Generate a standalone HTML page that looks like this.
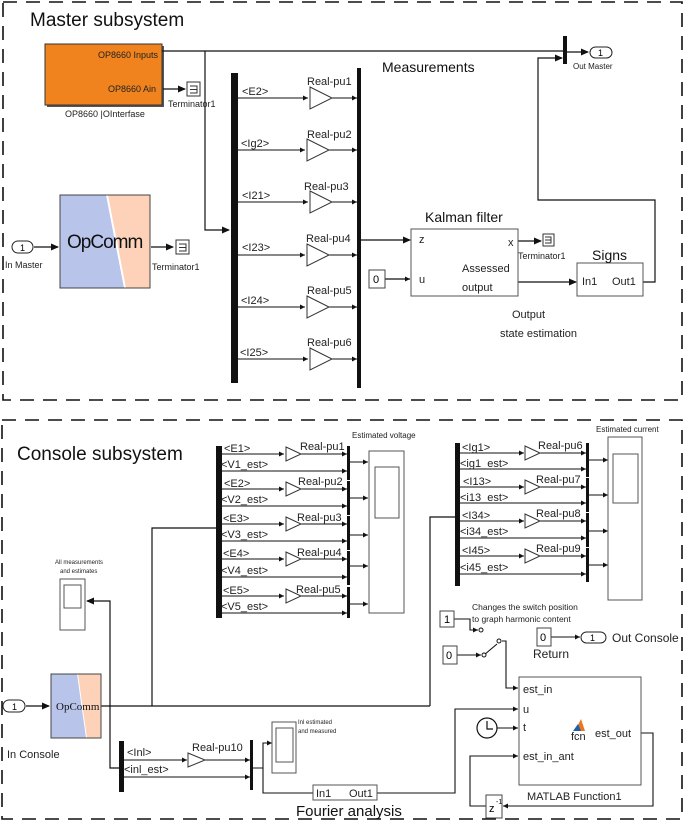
<!DOCTYPE html>
<html><head><meta charset="utf-8"><style>
html,body{margin:0;padding:0;background:#fff;}
svg{display:block;font-family:"Liberation Sans",sans-serif;}
</style></head><body>
<svg width="685" height="822" viewBox="0 0 685 822" xmlns="http://www.w3.org/2000/svg">
<defs>
<marker id="a" markerWidth="8" markerHeight="8" refX="7" refY="4" orient="auto" markerUnits="userSpaceOnUse"><path d="M0,0.5 L8,4 L0,7.5z" fill="#111"/></marker>
<marker id="s" markerWidth="5" markerHeight="5" refX="5" refY="2.5" orient="auto" markerUnits="userSpaceOnUse"><path d="M0,0 L5,2.5 L0,5z" fill="#111"/></marker>
</defs>
<g fill="none" stroke="#111" stroke-width="1.6" stroke-dasharray="14,9">
<rect x="3" y="2" width="679" height="398"/>
<rect x="2" y="420" width="680" height="399"/>
</g>
<g font-size="19" fill="#111"><text x="30" y="26">Master subsystem</text><text x="17" y="460">Console subsystem</text></g>

<!-- Master section -->
<rect x="47" y="46" width="117" height="61" fill="#555"/>
<rect x="45" y="44" width="117" height="61" fill="#f0831e" stroke="#333"/>
<g font-size="9" fill="#222" text-anchor="end"><text x="158" y="58">OP8660 Inputs</text><text x="156" y="92">OP8660 Ain</text></g>
<text x="65" y="117" font-size="9" fill="#222">OP8660 |OInterfase</text>
<g stroke="#111" stroke-width="1.2" fill="none">
<line x1="162" y1="51" x2="563" y2="51"/>
<polyline points="205,51 205,230 229,230" marker-end="url(#a)"/>
<line x1="163" y1="89" x2="185" y2="89" marker-end="url(#a)"/>
<polyline points="643,282 655,282 655,200 538,200 538,58 562,58" marker-end="url(#a)"/>
<line x1="566" y1="52" x2="588" y2="52" marker-end="url(#a)"/>
<line x1="361" y1="240" x2="410" y2="240" marker-end="url(#a)"/>
<line x1="385" y1="279" x2="410" y2="279" marker-end="url(#s)"/>
<line x1="518" y1="241" x2="541" y2="241" marker-end="url(#a)"/>
<line x1="518" y1="282" x2="576" y2="282" marker-end="url(#a)"/>
<line x1="34" y1="247" x2="58" y2="247" marker-end="url(#a)"/>
<line x1="151" y1="247" x2="173" y2="247" marker-end="url(#a)"/>
</g>
<g fill="#fff" stroke="#333" stroke-width="1">
<rect x="187" y="82" width="13" height="14"/><rect x="176" y="240" width="13" height="14"/><rect x="543" y="234" width="11" height="12"/>
</g>
<g stroke="#333" fill="none" stroke-width="1"><path d="M190,86h7v7h-7M190,89.5h7"/><path d="M179,244h7v7h-7M179,247.5h7"/><path d="M545,237h6v6h-6M545,240h6"/></g>
<g font-size="9" fill="#222"><text x="168" y="107">Terminator1</text><text x="152" y="270">Terminator1</text><text x="518" y="259">Terminator1</text><text x="5" y="268">In Master</text><text x="573" y="69" font-size="8">Out Master</text></g>
<rect x="12" y="241" width="21" height="12" rx="6" fill="#fff" stroke="#222"/><text x="20" y="251" font-size="9">1</text>
<rect x="590" y="47" width="22" height="11" rx="5.5" fill="#fff" stroke="#222"/><text x="598" y="56" font-size="9">1</text>
<rect x="563" y="36" width="4" height="28" fill="#111"/>
<!-- OpComm master -->
<polygon points="60,195 106,195 124,288 60,288" fill="#b8c4ea"/>
<polygon points="108,195 150,195 150,288 126,288" fill="#fdd2b8"/>
<rect x="60" y="195" width="90" height="93" fill="none" stroke="#444"/>
<text x="67" y="248" font-size="19" fill="#111" letter-spacing="-1">OpComm</text>
<!-- buses -->
<rect x="231" y="73" width="7" height="310" fill="#111"/>
<rect x="357" y="68" width="4" height="320" fill="#111"/>
<g stroke="#111" stroke-width="1.1">
<line x1="238" y1="98" x2="308" y2="98" marker-end="url(#s)"/><line x1="332" y1="98" x2="357" y2="98" marker-end="url(#s)"/>
<line x1="238" y1="150" x2="305" y2="150" marker-end="url(#s)"/><line x1="329" y1="150" x2="357" y2="150" marker-end="url(#s)"/>
<line x1="238" y1="202" x2="308" y2="202" marker-end="url(#s)"/><line x1="332" y1="202" x2="357" y2="202" marker-end="url(#s)"/>
<line x1="238" y1="255" x2="305" y2="255" marker-end="url(#s)"/><line x1="329" y1="255" x2="357" y2="255" marker-end="url(#s)"/>
<line x1="238" y1="307" x2="305" y2="307" marker-end="url(#s)"/><line x1="329" y1="307" x2="357" y2="307" marker-end="url(#s)"/>
<line x1="238" y1="359" x2="308" y2="359" marker-end="url(#s)"/><line x1="332" y1="359" x2="357" y2="359" marker-end="url(#s)"/>
</g>
<g fill="#fff" stroke="#333" stroke-width="1">
<polygon points="310,87 332,98 310,109"/><polygon points="307,139 329,150 307,161"/><polygon points="310,191 332,202 310,213"/>
<polygon points="307,244 329,255 307,266"/><polygon points="307,296 329,307 307,318"/><polygon points="310,348 332,359 310,370"/>
</g>
<g font-size="11" fill="#222">
<text x="242" y="95">&lt;E2&gt;</text><text x="241" y="147">&lt;Ig2&gt;</text><text x="242" y="199">&lt;I21&gt;</text><text x="242" y="251">&lt;I23&gt;</text><text x="241" y="304">&lt;I24&gt;</text><text x="240" y="356">&lt;I25&gt;</text>
<text x="307" y="85">Real-pu1</text><text x="307" y="138">Real-pu2</text><text x="304" y="190">Real-pu3</text><text x="306" y="242">Real-pu4</text><text x="307" y="294">Real-pu5</text><text x="307" y="346">Real-pu6</text>
</g>
<text x="382" y="72" font-size="14" fill="#111">Measurements</text>
<!-- Kalman -->
<rect x="411" y="229" width="107" height="67" fill="#fff" stroke="#555"/>
<rect x="577" y="263" width="66" height="33" fill="#fff" stroke="#555"/>
<text x="425" y="222" font-size="14" fill="#111">Kalman filter</text>
<g font-size="11" fill="#222"><text x="419" y="243">z</text><text x="508" y="246">x</text><text x="419" y="283">u</text><text x="462" y="272">Assessed</text><text x="462" y="291">output</text>
<text x="582" y="285">In1</text><text x="612" y="285">Out1</text><text x="512" y="318">Output</text><text x="500" y="337">state estimation</text></g>
<rect x="369" y="270" width="16" height="18" fill="#fff" stroke="#444"/><text x="373" y="283" font-size="11">0</text>
<text x="592" y="260" font-size="14" fill="#111">Signs</text>

<!-- Console section -->
<g stroke="#111" stroke-width="1.2" fill="none">
<line x1="101" y1="706" x2="430" y2="706"/>
<polyline points="152,706 152,528 217,528"/>
<polyline points="430,706 430,517 455,517"/>
<polyline points="110,706 110,601 87,601" marker-end="url(#a)"/>
<polyline points="110,706 110,768 119,768"/>
<line x1="26" y1="706" x2="49" y2="706" marker-end="url(#a)"/>
</g>
<rect x="3" y="700" width="22" height="12" rx="6" fill="#fff" stroke="#222"/><text x="12" y="710" font-size="9">1</text>
<polygon points="51,674 77,674 86,738 51,738" fill="#b8c4ea"/>
<polygon points="78,674 101,674 101,738 87,738" fill="#fdd2b8"/>
<rect x="51" y="674" width="50" height="64" fill="none" stroke="#444"/>
<text x="56" y="710" font-size="11" font-family="Liberation Serif,serif" fill="#111">OpComm</text>
<text x="7" y="758" font-size="11" fill="#222">In Console</text>
<rect x="60" y="579" width="25" height="51" fill="#fff" stroke="#555"/><rect x="64" y="585" width="17" height="23" fill="#fff" stroke="#555"/>
<g font-size="6" fill="#222"><text x="55" y="564">All measurements</text><text x="60" y="573">and estimates</text></g>

<!-- voltage bus -->
<rect x="216" y="446" width="6" height="172" fill="#111"/>
<g fill="#111"><rect x="347" y="446" width="3" height="34"/><rect x="347" y="481" width="3" height="34"/><rect x="347" y="516" width="3" height="34"/><rect x="347" y="551" width="3" height="34"/><rect x="347" y="587" width="3" height="31"/></g>
<g stroke="#111" stroke-width="1.1">
<line x1="222" y1="454" x2="284" y2="454" marker-end="url(#s)"/><line x1="301" y1="454" x2="347" y2="454" marker-end="url(#s)"/><line x1="222" y1="471" x2="347" y2="471" marker-end="url(#s)"/>
<line x1="222" y1="489" x2="284" y2="489" marker-end="url(#s)"/><line x1="301" y1="489" x2="347" y2="489" marker-end="url(#s)"/><line x1="222" y1="506" x2="347" y2="506" marker-end="url(#s)"/>
<line x1="222" y1="524" x2="284" y2="524" marker-end="url(#s)"/><line x1="301" y1="524" x2="347" y2="524" marker-end="url(#s)"/><line x1="222" y1="541" x2="347" y2="541" marker-end="url(#s)"/>
<line x1="222" y1="559" x2="284" y2="559" marker-end="url(#s)"/><line x1="301" y1="559" x2="347" y2="559" marker-end="url(#s)"/><line x1="222" y1="577" x2="347" y2="577" marker-end="url(#s)"/>
<line x1="222" y1="596" x2="284" y2="596" marker-end="url(#s)"/><line x1="301" y1="596" x2="347" y2="596" marker-end="url(#s)"/><line x1="222" y1="613" x2="347" y2="613" marker-end="url(#s)"/>
<line x1="350" y1="462" x2="368" y2="462" marker-end="url(#s)"/><line x1="350" y1="498" x2="368" y2="498" marker-end="url(#s)"/><line x1="350" y1="535" x2="368" y2="535" marker-end="url(#s)"/><line x1="350" y1="566" x2="368" y2="566" marker-end="url(#s)"/><line x1="350" y1="604" x2="368" y2="604" marker-end="url(#s)"/>
</g>
<g fill="#fff" stroke="#333" stroke-width="1">
<polygon points="286,447 301,454 286,461"/><polygon points="286,482 301,489 286,496"/><polygon points="286,517 301,524 286,531"/><polygon points="286,552 301,559 286,566"/><polygon points="286,589 301,596 286,603"/>
</g>
<g font-size="11" fill="#222">
<text x="224" y="452">&lt;E1&gt;</text><text x="221" y="468">&lt;V1_est&gt;</text><text x="224" y="487">&lt;E2&gt;</text><text x="221" y="503">&lt;V2_est&gt;</text>
<text x="223" y="522">&lt;E3&gt;</text><text x="221" y="538">&lt;V3_est&gt;</text><text x="223" y="557">&lt;E4&gt;</text><text x="221" y="574">&lt;V4_est&gt;</text>
<text x="223" y="594">&lt;E5&gt;</text><text x="221" y="610">&lt;V5_est&gt;</text>
<text x="300" y="450">Real-pu1</text><text x="298" y="485">Real-pu2</text><text x="297" y="521">Real-pu3</text><text x="297" y="556">Real-pu4</text><text x="296" y="593">Real-pu5</text>
</g>
<rect x="369" y="451" width="35" height="162" fill="#fff" stroke="#555"/><rect x="375" y="467" width="24" height="51" fill="#fff" stroke="#555"/>
<text x="352" y="438" font-size="8" fill="#222">Estimated voltage</text>

<!-- current bus -->
<rect x="455" y="443" width="5" height="143" fill="#111"/>
<g fill="#111"><rect x="586" y="443" width="3" height="34"/><rect x="586" y="478" width="3" height="34"/><rect x="586" y="513" width="3" height="34"/><rect x="586" y="548" width="3" height="34"/></g>
<g stroke="#111" stroke-width="1.1">
<line x1="460" y1="453" x2="524" y2="453" marker-end="url(#s)"/><line x1="540" y1="453" x2="586" y2="453" marker-end="url(#s)"/><line x1="460" y1="469" x2="586" y2="469" marker-end="url(#s)"/>
<line x1="460" y1="487" x2="524" y2="487" marker-end="url(#s)"/><line x1="540" y1="487" x2="586" y2="487" marker-end="url(#s)"/><line x1="460" y1="503" x2="586" y2="503" marker-end="url(#s)"/>
<line x1="460" y1="521" x2="524" y2="521" marker-end="url(#s)"/><line x1="540" y1="521" x2="586" y2="521" marker-end="url(#s)"/><line x1="460" y1="538" x2="586" y2="538" marker-end="url(#s)"/>
<line x1="460" y1="556" x2="524" y2="556" marker-end="url(#s)"/><line x1="540" y1="556" x2="586" y2="556" marker-end="url(#s)"/><line x1="460" y1="574" x2="586" y2="574" marker-end="url(#s)"/>
<line x1="589" y1="460" x2="608" y2="460" marker-end="url(#s)"/><line x1="589" y1="495" x2="608" y2="495" marker-end="url(#s)"/><line x1="589" y1="531" x2="608" y2="531" marker-end="url(#s)"/><line x1="589" y1="565" x2="608" y2="565" marker-end="url(#s)"/>
</g>
<g fill="#fff" stroke="#333" stroke-width="1">
<polygon points="525,446 540,453 525,460"/><polygon points="525,480 540,487 525,494"/><polygon points="525,514 540,521 525,528"/><polygon points="525,549 540,556 525,563"/>
</g>
<g font-size="11" fill="#222">
<text x="462" y="451">&lt;Ig1&gt;</text><text x="460" y="467">&lt;ig1_est&gt;</text><text x="463" y="485">&lt;I13&gt;</text><text x="460" y="501">&lt;i13_est&gt;</text>
<text x="462" y="519">&lt;I34&gt;</text><text x="460" y="535">&lt;i34_est&gt;</text><text x="462" y="554">&lt;I45&gt;</text><text x="460" y="571">&lt;i45_est&gt;</text>
<text x="538" y="449">Real-pu6</text><text x="536" y="483">Real-pu7</text><text x="536" y="517">Real-pu8</text><text x="536" y="552">Real-pu9</text>
</g>
<rect x="608" y="437" width="34" height="163" fill="#fff" stroke="#555"/><rect x="613" y="454" width="25" height="49" fill="#fff" stroke="#555"/>
<text x="596" y="432" font-size="8" fill="#222">Estimated current</text>

<!-- inl bus -->
<rect x="119" y="741" width="5" height="51" fill="#111"/>
<rect x="250" y="740" width="3" height="50" fill="#111"/>
<g stroke="#111" stroke-width="1.1" fill="none">
<line x1="124" y1="760" x2="187" y2="760" marker-end="url(#s)"/><line x1="205" y1="760" x2="250" y2="760" marker-end="url(#s)"/><line x1="124" y1="777" x2="250" y2="777" marker-end="url(#s)"/>
<polyline points="253,768 263,768 263,743 272,743" marker-end="url(#s)"/>
<polyline points="263,768 263,793 313,793"/>
<polyline points="377,793 455,793 455,709 518,709" marker-end="url(#s)"/>
</g>
<polygon points="188,753 205,760 188,767" fill="#fff" stroke="#333"/>
<g font-size="11" fill="#222"><text x="127" y="756">&lt;Inl&gt;</text><text x="124" y="773">&lt;inl_est&gt;</text><text x="192" y="751">Real-pu10</text></g>
<rect x="272" y="722" width="24" height="51" fill="#fff" stroke="#555"/><rect x="276" y="728" width="17" height="34" fill="#fff" stroke="#555"/>
<g font-size="6" fill="#222"><text x="298" y="724">Inl estimated</text><text x="298" y="733">and measured</text></g>
<rect x="313" y="785" width="64" height="15" fill="#fff" stroke="#555"/>
<g font-size="11" fill="#222"><text x="316" y="797">In1</text><text x="349" y="797">Out1</text></g>
<text x="296" y="816" font-size="15" fill="#111">Fourier analysis</text>

<!-- switch & matlab -->
<g stroke="#111" stroke-width="1.1" fill="none">
<polyline points="454,619 470,619 470,630 478,630" marker-end="url(#s)"/>
<line x1="457" y1="655" x2="481" y2="655" marker-end="url(#s)"/>
<line x1="484" y1="655" x2="497" y2="644"/>
<polyline points="502,641 506,641 506,688 518,688" marker-end="url(#s)"/>
<line x1="551" y1="637" x2="580" y2="637" marker-end="url(#s)"/>
<line x1="497" y1="728" x2="518" y2="728" marker-end="url(#s)"/>
<polyline points="641,733 653,733 653,806 503,806" marker-end="url(#s)"/>
<polyline points="486,806 470,806 470,756 518,756" marker-end="url(#s)"/>
</g>
<g fill="#fff" stroke="#111" stroke-width="1"><circle cx="481" cy="630" r="2"/><circle cx="484" cy="655" r="2"/><circle cx="499" cy="641" r="2"/></g>
<rect x="440" y="611" width="14" height="16" fill="#fff" stroke="#444"/><text x="444" y="623" font-size="11">1</text>
<rect x="443" y="646" width="14" height="18" fill="#fff" stroke="#444"/><text x="446" y="659" font-size="11">0</text>
<rect x="537" y="628" width="14" height="18" fill="#fff" stroke="#444"/><text x="540" y="641" font-size="11">0</text>
<rect x="581" y="632" width="25" height="11" rx="5.5" fill="#fff" stroke="#222"/><text x="590" y="641" font-size="9">1</text>
<g font-size="12" fill="#222"><text x="612" y="642">Out Console</text><text x="533" y="658">Return</text></g>
<g font-size="8.5" fill="#222"><text x="472" y="610">Changes the switch position</text><text x="472" y="622">to graph harmonic content</text></g>
<rect x="519" y="677" width="122" height="108" fill="#fff" stroke="#555"/>
<g font-size="11" fill="#222"><text x="523" y="693">est_in</text><text x="523" y="713">u</text><text x="523" y="731">t</text><text x="523" y="760">est_in_ant</text>
<text x="571" y="740">fcn</text><text x="595" y="737">est_out</text><text x="527" y="800">MATLAB Function1</text></g>
<polygon points="575,731 581,719 585,731" fill="#e87722"/><polygon points="573,731 578,724 581,731" fill="#1f5fa8"/>
<circle cx="487" cy="728" r="10" fill="#fff" stroke="#111" stroke-width="1.2"/>
<polyline points="487,721 487,729 493,729" fill="none" stroke="#111" stroke-width="1.2"/>
<rect x="486" y="795" width="16" height="23" fill="#fff" stroke="#444"/>
<text x="489" y="812" font-size="11">z</text><text x="496" y="804" font-size="7">-1</text>
</svg>
</body></html>
